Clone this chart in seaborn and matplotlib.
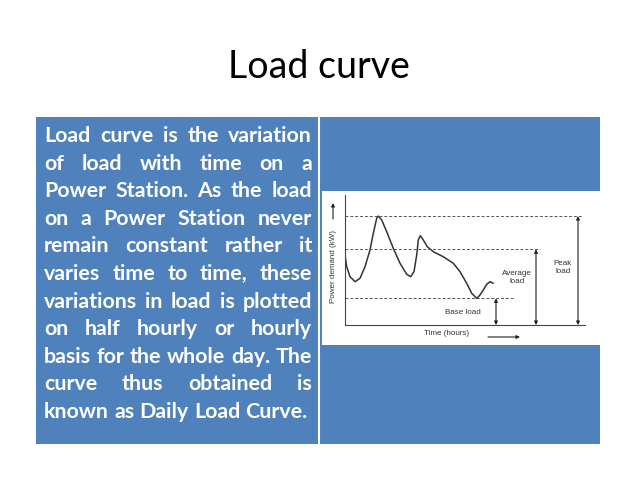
import matplotlib
matplotlib.use("Agg")
import matplotlib.pyplot as plt
import seaborn as sns
from matplotlib.patches import Rectangle

sns.set_theme(style="white")
plt.rcParams['font.family'] = ['Lato', 'DejaVu Sans']

# --- slide content ---
title = "Load curve"
body_lines = [
    "Load curve is the variation",
    "of load with time on a",
    "Power Station. As the load",
    "on a Power Station never",
    "remain constant rather it",
    "varies time to time, these",
    "variations in load is plotted",
    "on half hourly or hourly",
    "basis for the whole day. The",
    "curve thus obtained is",
    "known as Daily Load Curve.",
]

# load curve (time in hours, demand in arbitrary units)
time_h = [0.0, 0.17, 0.5, 1.0, 1.5, 2.0, 2.5, 2.83, 3.17, 3.33, 3.67, 4.17,
          4.83, 5.5, 6.17, 6.57, 6.9, 7.17, 7.33, 7.53, 7.83, 8.23, 8.83,
          9.83, 10.83, 11.5, 12.17, 12.67, 13.17, 13.5, 13.83, 14.17, 14.5,
          14.83]
demand_kw = [53.8, 44.8, 37.2, 33.3, 35.9, 44.8, 57.7, 70.5, 82.1, 83.8, 80.8,
             71.8, 59.0, 47.5, 39.0, 37.2, 41.0, 53.8, 65.4, 68.7, 65.4, 60.2,
             56.4, 52.5, 47.5, 41.0, 32.1, 24.4, 20.5, 23.1, 26.9, 31.3, 33.3,
             32.1]
peak_kw = 83.8
avg_kw = 58.2
base_kw = 20.5

blue = "#4F81BD"
ink = "#333333"

fig = plt.figure(figsize=(6.38, 4.78), dpi=100)
fig.patch.set_facecolor("white")

# background axes in pixel units
bg = fig.add_axes([0, 0, 1, 1])
bg.set_xlim(0, 638)
bg.set_ylim(478, 0)
bg.axis("off")

bg.add_patch(Rectangle((36, 117), 564, 327, facecolor=blue, edgecolor="none"))
bg.plot([319, 319], [117, 444], color="white", lw=1.5)
bg.add_patch(Rectangle((322, 191), 279, 154, facecolor="white", edgecolor="none"))

bg.text(319, 78, title, ha="center", va="baseline", fontsize=27, color="black")

# justified body text
renderer = fig.canvas.get_renderer()


def text_width(s, size):
    t = bg.text(0, 0, s, fontsize=size, fontweight="bold")
    w = t.get_window_extent(renderer).width
    t.remove()
    return w


left, right = 44, 312
size = 16
space = text_width("a a", size) - 2 * text_width("a", size)
widest = max(sum(text_width(w, size) for w in ln.split()) + space * (len(ln.split()) - 1)
             for ln in body_lines)
size = size * (right - left) / widest

for i, line in enumerate(body_lines):
    y = 142 + i * 27.6
    words = line.split()
    widths = [text_width(w, size) for w in words]
    if i == len(body_lines) - 1:
        gap = text_width("a a", size) - 2 * text_width("a", size)
    else:
        gap = (right - left - sum(widths)) / (len(words) - 1)
    x = left
    for w, wd in zip(words, widths):
        bg.text(x, y, w, fontsize=size, fontweight="bold", color="white",
                ha="left", va="baseline")
        x += wd + gap

# --- load curve chart ---
ax = fig.add_axes([345 / 638, (478 - 325) / 478, 240 / 638, 130 / 478])
ax.set_facecolor("white")
sns.lineplot(x=time_h, y=demand_kw, ax=ax, color=ink, lw=1.1)
ax.set_xlim(0, 24)
ax.set_ylim(0, 100)
ax.set_xticks([])
ax.set_yticks([])
for s in ["top", "right"]:
    ax.spines[s].set_visible(False)
for s in ["left", "bottom"]:
    ax.spines[s].set_color("#444444")
    ax.spines[s].set_linewidth(0.8)

dash = dict(color="#555555", lw=0.7, linestyles=(0, (3, 2)))
ax.hlines(peak_kw, 0, 23.8, **dash)
ax.hlines(avg_kw, 0, 19.5, **dash)
ax.hlines(base_kw, 0, 16.8, **dash)

arrow = dict(arrowstyle="<|-|>", color="#222222", lw=0.8, mutation_scale=5,
             shrinkA=0, shrinkB=0)
ax.annotate("", xy=(15.1, base_kw), xytext=(15.1, 0), arrowprops=arrow)
ax.annotate("", xy=(19.1, avg_kw), xytext=(19.1, 0), arrowprops=arrow)
ax.annotate("", xy=(23.3, peak_kw), xytext=(23.3, 0), arrowprops=arrow)

small = dict(fontsize=5.8, color="#333333", family=["Liberation Sans", "DejaVu Sans"])
ax.text(11.8, 10, "Base load", ha="center", va="center", **small)
ax.text(17.2, 36.2, "Average\nload", ha="center", va="center", linespacing=1.2, **small)
ax.text(21.8, 44.6, "Peak\nload", ha="center", va="center", linespacing=1.2, **small)

ax.set_ylabel("Power demand (kW)", **small)
ax.yaxis.set_label_coords(-0.035, 0.45)
ax.set_xlabel("Time (hours)", **small)
ax.xaxis.set_label_coords(0.425, -0.04)

head = dict(arrowstyle="-|>", color="#222222", lw=0.8, mutation_scale=5,
            shrinkA=0, shrinkB=0)
bg.annotate("", xy=(333, 203), xytext=(333, 219), arrowprops=head)
bg.annotate("", xy=(520, 337), xytext=(488, 337), arrowprops=head)

fig.savefig("out.png", dpi=100)
